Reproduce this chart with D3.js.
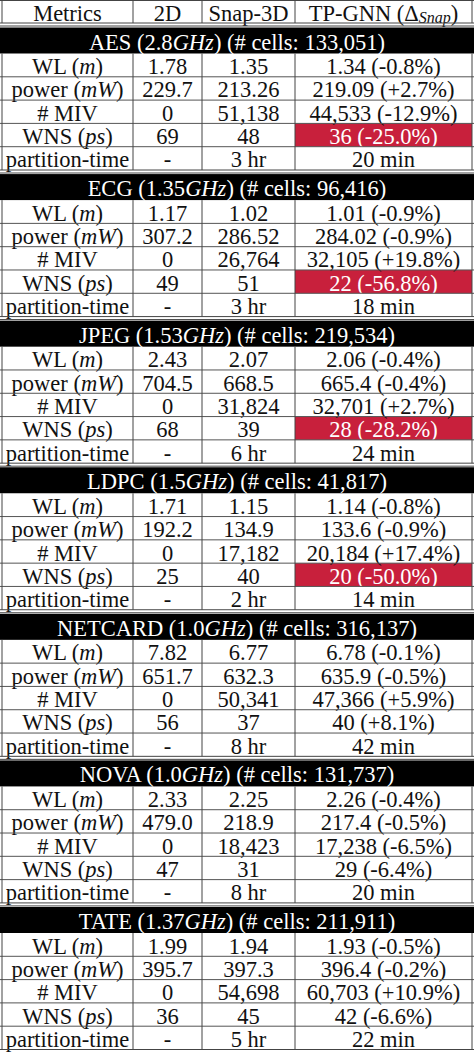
<!DOCTYPE html><html><head><meta charset="utf-8">
<script src="https://cdn.jsdelivr.net/npm/d3@7"></script>
<style>body{margin:0;background:#fff}svg{display:block}</style></head><body>
<script>
const columns = ["Metrics","2D","Snap-3D","TP-GNN"];
const metrics = ["WL (|m|)","power (|mW|)","# MIV","WNS (|ps|)","partition-time"];
const designs = ["AES","ECG","JPEG","LDPC","NETCARD","NOVA","TATE"];
const freqs = ["2.8","1.35","1.53","1.5","1.0","1.0","1.37"];
const cells = ["133,051","96,416","219,534","41,817","316,137","131,737","211,911"];
const val2D = [
 ["1.78","229.7","0","69","-"],["1.17","307.2","0","49","-"],["2.43","704.5","0","68","-"],
 ["1.71","192.2","0","25","-"],["7.82","651.7","0","56","-"],["2.33","479.0","0","47","-"],["1.99","395.7","0","36","-"]];
const valSnap = [
 ["1.35","213.26","51,138","48","3 hr"],["1.02","286.52","26,764","51","3 hr"],["2.07","668.5","31,824","39","6 hr"],
 ["1.15","134.9","17,182","40","2 hr"],["6.77","632.3","50,341","37","8 hr"],["2.25","218.9","18,423","31","8 hr"],["1.94","397.3","54,698","45","5 hr"]];
const valTP = [
 ["1.34 (-0.8%)","219.09 (+2.7%)","44,533 (-12.9%)","36 (-25.0%)","20 min"],
 ["1.01 (-0.9%)","284.02 (-0.9%)","32,105 (+19.8%)","22 (-56.8%)","18 min"],
 ["2.06 (-0.4%)","665.4 (-0.4%)","32,701 (+2.7%)","28 (-28.2%)","24 min"],
 ["1.14 (-0.8%)","133.6 (-0.9%)","20,184 (+17.4%)","20 (-50.0%)","14 min"],
 ["6.78 (-0.1%)","635.9 (-0.5%)","47,366 (+5.9%)","40 (+8.1%)","42 min"],
 ["2.26 (-0.4%)","217.4 (-0.5%)","17,238 (-6.5%)","29 (-6.4%)","20 min"],
 ["1.93 (-0.5%)","396.4 (-0.2%)","60,703 (+10.9%)","42 (-6.6%)","22 min"]];
const highlighted = [[0,3],[1,3],[2,3],[3,3]];

const W=474,H=1052, font="'Liberation Serif','Times New Roman',serif", fs=22.5;
const svg=d3.select("body").append("svg").attr("width",W).attr("height",H).style("font-family",font);
const xEdges=[2,133,202,295,472];
const xc=c=>{const i=columns.indexOf(c);return (xEdges[i]+xEdges[i+1])/2;};
const secY=d3.scaleLinear().domain([0,6]).range([27.5,907]);
const barH=26,rowH=23.3;
const rowY=(s,r)=>secY(s)+barH+r*rowH;
const line=(x1,y1,x2,y2,w=1,c="#444")=>svg.append("line").attr("x1",x1).attr("y1",y1).attr("x2",x2).attr("y2",y2).attr("stroke",c).attr("stroke-width",w);

function addText(t,cx,cy,fill="#111"){
  const el=svg.append("text").attr("x",cx).attr("y",cy+1).attr("text-anchor","middle").attr("dominant-baseline","central").attr("font-size",fs).attr("fill",fill);
  t.split("|").forEach((p,i)=>el.append("tspan").text(p).attr("font-style",i%2?"italic":null));
  return el;
}
const hy=11.5;
columns.slice(0,3).forEach(c=>addText(c,xc(c),hy));
const th=svg.append("text").attr("x",xc("TP-GNN")).attr("y",hy+1).attr("text-anchor","middle").attr("dominant-baseline","central").attr("font-size",fs).attr("fill","#111");
th.append("tspan").text("TP-GNN (Δ");
th.append("tspan").text("Snap").attr("font-style","italic").attr("font-size",16).attr("dy",4);
th.append("tspan").text(")").attr("dy",-4);
line(0,0.5,W,0.5);
xEdges.forEach(v=>line(v,0,v,23));
line(0,23,W,23);line(0,26,W,26);

designs.forEach((d,s)=>{
  const y0=secY(s);
  svg.append("rect").attr("x",0).attr("y",y0).attr("width",W).attr("height",barH).attr("fill","#000");
  const t=svg.append("text").attr("x",W/2).attr("y",y0+barH/2+1).attr("text-anchor","middle").attr("dominant-baseline","central").attr("font-size",fs).attr("fill","#fff");
  t.append("tspan").text(`${d} (${freqs[s]}`);t.append("tspan").text("GHz").attr("font-style","italic");
  t.append("tspan").text(`) (# cells: ${cells[s]})`);
  highlighted.filter(h=>h[0]===s).forEach(h=>svg.append("rect").attr("x",xEdges[3]).attr("y",rowY(s,h[1])).attr("width",xEdges[4]-xEdges[3]).attr("height",rowH).attr("fill","#c8203c"));
  metrics.forEach((m,r)=>{
    const cy=rowY(s,r)+rowH/2;
    const hl=highlighted.some(h=>h[0]===s&&h[1]===r);
    addText(m,xc("Metrics"),cy);
    addText(val2D[s][r],xc("2D"),cy);
    addText(valSnap[s][r],xc("Snap-3D"),cy);
    addText(valTP[s][r],xc("TP-GNN"),cy,hl?"#fff":"#111");
    if(r>0) line(0,rowY(s,r),W,rowY(s,r),1,"#555");
  });
  const yb=rowY(s,5);
  xEdges.forEach(v=>line(v,y0+barH,v,yb));
  line(0,yb,W,yb);
  if(s<6) line(0,yb+3,W,yb+3);
});
</script></body></html>
